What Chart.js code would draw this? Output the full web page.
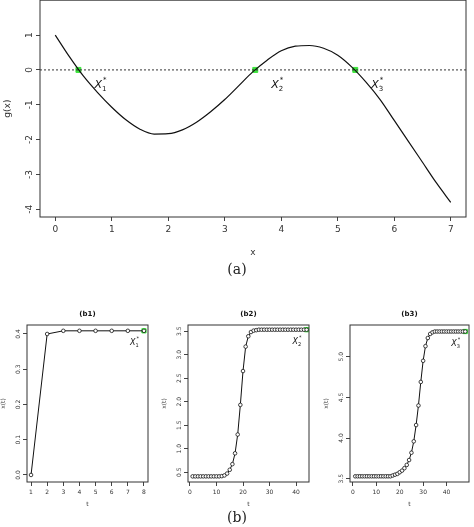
<!DOCTYPE html>
<html>
<head>
<meta charset="utf-8">
<script src="https://cdn.jsdelivr.net/npm/chart.js@4/dist/chart.umd.min.js"></script>
<style>
  body { margin:0; background:#fff; width:474px; height:527px; overflow:hidden; position:relative; }
  canvas { position:absolute; }
  .cap { position:absolute; width:474px; text-align:center; font-family:"DejaVu Serif", serif; font-size:14px; color:#222; }
</style>
</head>
<body>
<canvas id="ca" width="474" height="272" style="left:0;top:-10px"></canvas>
<div class="cap" style="top:261px">(a)</div>
<canvas id="cb1" width="158" height="212" style="left:0;top:300px"></canvas>
<canvas id="cb2" width="158" height="212" style="left:160px;top:300px"></canvas>
<canvas id="cb3" width="154" height="212" style="left:320px;top:300px"></canvas>
<div class="cap" style="top:509px">(b)</div>
<script>
///////////// DATA /////////////

const gx = [0,0.25,0.5,0.75,1,1.25,1.5,1.75,2,2.25,2.5,2.75,3,3.25,3.5,3.75,4,4.25,4.5,4.75,5,5.25,5.5,5.75,6,6.25,6.5,6.75,7];
const gy = [1.0,0.38,-0.18,-0.65,-1.07,-1.43,-1.7,-1.84,-1.83,-1.72,-1.5,-1.2,-0.85,-0.45,-0.05,0.28,0.55,0.68,0.7,0.62,0.42,0.08,-0.35,-0.85,-1.45,-2.05,-2.65,-3.25,-3.8];
const roots = [0.41, 3.54, 5.31];

const b1 = [0, 0.40, 0.409, 0.409, 0.409, 0.409, 0.409, 0.409];
const b2 = [0.41,0.41,0.41,0.41,0.41,0.41,0.41,0.41,0.41,0.41,0.41,0.415,0.43,0.47,0.55,0.67,0.9,1.3,1.93,2.65,3.17,3.39,3.48,3.51,3.52,3.53,3.53,3.53,3.53,3.53,3.53,3.53,3.53,3.53,3.53,3.53,3.53,3.53,3.53,3.53,3.53,3.53,3.53,3.53];
const b3 = [3.53,3.53,3.53,3.53,3.53,3.53,3.53,3.53,3.53,3.53,3.53,3.53,3.53,3.53,3.53,3.53,3.54,3.55,3.56,3.58,3.6,3.63,3.67,3.73,3.82,3.96,4.16,4.4,4.69,4.95,5.13,5.23,5.28,5.30,5.31,5.31,5.31,5.31,5.31,5.31,5.31,5.31,5.31,5.31,5.31,5.31,5.31,5.31];

const aXTicks = [0,1,2,3,4,5,6,7];
const aYTicks = [-4,-3,-2,-1,0,1];

const green = '#3be33b';
const tickCol = '#444';

///////////// HELPERS /////////////

// frame, R-style y labels (read bottom-up), title and X* labels
const framePlugin = {
  id: 'frame',
  afterDraw(chart, args, opts) {
    const { ctx, chartArea: a, scales } = chart;
    ctx.save();
    ctx.strokeStyle = '#333'; ctx.lineWidth = 1;
    ctx.strokeRect(a.left, a.top, a.right - a.left, a.bottom - a.top);
    const fs = opts.fs;
    ctx.font = fs + 'px "DejaVu Sans"'; ctx.fillStyle = '#333';
    ctx.textAlign = 'center'; ctx.textBaseline = 'bottom';
    scales.y.ticks.forEach(t => {
      const py = scales.y.getPixelForValue(t.value);
      ctx.save();
      ctx.translate(a.left - 6, py); ctx.rotate(-Math.PI / 2);
      ctx.fillText(opts.digits ? t.value.toFixed(opts.digits) : String(t.value), 0, 0);
      ctx.restore();
    });
    ctx.save();
    ctx.translate(a.left - 6 - fs * 2.4, (a.top + a.bottom) / 2); ctx.rotate(-Math.PI / 2);
    ctx.fillText(opts.ytitle, 0, 0);
    ctx.restore();
    ctx.textAlign = 'left'; ctx.textBaseline = 'alphabetic';
    (opts.labels || []).forEach(l => {
      const x = scales.x.getPixelForValue(l.x) + l.dx, y = scales.y.getPixelForValue(l.y) + l.dy;
      ctx.fillStyle = '#111';
      ctx.font = 'italic ' + l.size + 'px "DejaVu Sans"';
      ctx.fillText('X', x, y);
      const w = ctx.measureText('X').width;
      ctx.font = Math.round(l.size * 0.6) + 'px "DejaVu Sans"';
      ctx.fillText(l.sub, x + w, y + l.size * 0.3);
      ctx.fillText('*', x + w + 1, y - l.size * 0.55);
    });
    if (opts.title) {
      ctx.font = 'bold 7px "DejaVu Sans"'; ctx.fillStyle = '#111'; ctx.textAlign = 'center';
      ctx.fillText(opts.title, (a.left + a.right) / 2, 16);
    }
    ctx.restore();
  }
};

function scaleX(min, max, ticks, fs, title, h) {
  return {
    type: 'linear', min, max,
    afterBuildTicks: s => { s.ticks = ticks.map(v => ({ value: v })); },
    afterFit: s => { s.height = h; },
    grid: { drawOnChartArea: false, tickLength: 4, color: tickCol },
    border: { display: false },
    ticks: { font: { size: fs, family: 'DejaVu Sans' }, color: '#333', maxRotation: 0, autoSkip: false },
    title: { display: true, text: title, font: { size: fs, family: 'DejaVu Sans' }, color: '#333', padding: { top: fs + 4 } }
  };
}
function scaleY(min, max, ticks, w) {
  return {
    min, max,
    afterBuildTicks: s => { s.ticks = ticks.map(v => ({ value: v })); },
    afterFit: s => { s.width = w; },
    grid: { drawOnChartArea: false, tickLength: 4, color: tickCol },
    border: { display: false },
    ticks: { color: 'rgba(0,0,0,0)', autoSkip: false }
  };
}

///////////// CHART (a) /////////////

new Chart(document.getElementById('ca'), {
  type: 'scatter',
  data: { datasets: [
    { data: gx.map((x, i) => ({ x, y: gy[i] })), showLine: true, borderColor: '#111', borderWidth: 1.2, pointRadius: 0, cubicInterpolationMode: 'monotone' },
    { data: [{ x: -0.27, y: 0 }, { x: 7.27, y: 0 }], showLine: true, borderColor: '#333', borderWidth: 1, borderDash: [2, 2], pointRadius: 0 },
    { data: roots.map(x => ({ x, y: 0 })), pointStyle: 'rect', pointRadius: 3.5, backgroundColor: green, borderColor: green }
  ]},
  options: {
    responsive: false, animation: false, devicePixelRatio: 1,
    layout: { padding: { top: 0, right: 8, left: 0, bottom: 0 } },
    plugins: { legend: { display: false }, tooltip: { enabled: false },
      frame: { fs: 9, digits: 0, ytitle: 'g(x)',
        labels: roots.map((r, i) => ({ x: r, y: 0, dx: 16, dy: 18, size: 11, sub: String(i + 1) })) } },
    scales: { x: scaleX(-0.27, 7.27, aXTicks, 9, 'x', 45), y: scaleY(-4.22, 2.0, aYTicks, 40) }
  },
  plugins: [framePlugin]
});

///////////// CHARTS (b) /////////////

function small(id, vals, xr, yr, xt, yt, w, sub, padR) {
  new Chart(document.getElementById(id), {
    type: 'scatter',
    data: { datasets: [
      { data: vals.map((y, i) => ({ x: i + 1, y })), showLine: true, borderColor: '#111', borderWidth: 1,
        pointRadius: 1.8, pointBackgroundColor: '#fff', pointBorderColor: '#111', pointBorderWidth: 0.8 },
      { data: [{ x: vals.length, y: vals[vals.length - 1] }], pointStyle: 'rect', pointRadius: 3, backgroundColor: green, borderColor: green }
    ]},
    options: {
      responsive: false, animation: false, devicePixelRatio: 1,
      layout: { padding: { top: 25, right: padR, left: 0, bottom: 0 } },
      plugins: { legend: { display: false }, tooltip: { enabled: false },
        frame: { title: '(b' + sub + ')', fs: 6, digits: 1, ytitle: 'x(t)',
          labels: [{ x: vals.length, y: vals[vals.length - 1], dx: -14, dy: 14, size: 8, sub }] } },
      scales: { x: scaleX(xr[0], xr[1], xt, 6, 't', 30), y: scaleY(yr[0], yr[1], yt, w) }
    },
    plugins: [framePlugin]
  });
}

small('cb1', b1, [0.75, 8.25], [-0.02, 0.4255], [1,2,3,4,5,6,7,8], [0,0.1,0.2,0.3,0.4], 27, '1', 10);
small('cb2', b2, [-0.75, 44.9], [0.29, 3.63], [0,10,20,30,40], [0.5,1,1.5,2,2.5,3,3.5], 28, '2', 9);
small('cb3', b3, [-1.25, 49.6], [3.46, 5.39], [0,10,20,30,40], [3.5,4,4.5,5], 30, '3', 2);
</script>
</body>
</html>
